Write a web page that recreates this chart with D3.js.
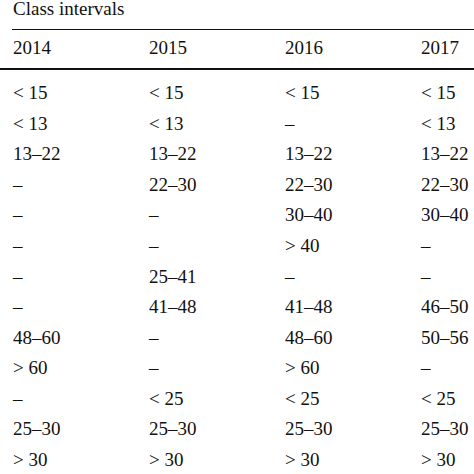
<!DOCTYPE html>
<html><head><meta charset="utf-8">
<script src="https://cdn.jsdelivr.net/npm/d3@7"></script>
<style>body{margin:0;background:#fff}</style></head>
<body><svg id="c" width="474" height="474"></svg>
<script>
const title = "Class intervals";
const years = ["2014","2015","2016","2017"];
const col2014 = ["< 15","< 13","13–22","–","–","–","–","–","48–60","> 60","–","25–30","> 30"];
const col2015 = ["< 15","< 13","13–22","22–30","–","–","25–41","41–48","–","–","< 25","25–30","> 30"];
const col2016 = ["< 15","–","13–22","22–30","30–40","> 40","–","41–48","48–60","> 60","< 25","25–30","> 30"];
const col2017 = ["< 15","< 13","13–22","22–30","30–40","–","–","46–50","50–56","–","< 25","25–30","> 30"];
const cols = [col2014, col2015, col2016, col2017];

const svg = d3.select("#c");
const font = "'Liberation Serif','Times New Roman',serif";
const x = d3.scalePoint().domain(years).range([13, 421]);
const y = d3.scaleLinear().domain([0, col2014.length - 1]).range([99, 466]);

svg.append("text").attr("x", 13).attr("y", 15).text(title)
  .attr("font-family", font).attr("font-size", 19).attr("fill", "#111");
svg.append("line").attr("x1", 12).attr("x2", 474).attr("y1", 29.5).attr("y2", 29.5)
  .attr("stroke", "#111").attr("stroke-width", 1);
svg.append("line").attr("x1", 0).attr("x2", 474).attr("y1", 69).attr("y2", 69)
  .attr("stroke", "#111").attr("stroke-width", 2);

svg.selectAll("text.h").data(years).join("text").attr("class", "h")
  .attr("x", d => x(d)).attr("y", 54).text(d => d)
  .attr("font-family", font).attr("font-size", 19).attr("fill", "#111");

cols.forEach((col, ci) => {
  svg.selectAll("text.c" + ci).data(col).join("text").attr("class", "c" + ci)
    .attr("x", x(years[ci])).attr("y", (d, i) => y(i)).text(d => d)
    .attr("font-family", font).attr("font-size", 19).attr("fill", "#111");
});
</script></body></html>
